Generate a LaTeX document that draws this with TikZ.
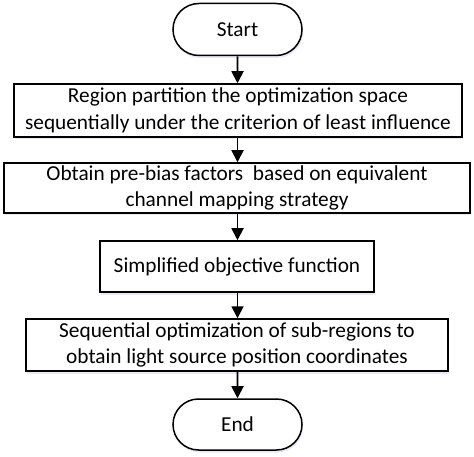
\documentclass[tikz,border=0pt]{standalone}
\usepackage{fontspec}
\setmainfont{Carlito}
\usetikzlibrary{positioning,shapes.misc,arrows.meta,shadows}

\begin{document}
\begin{tikzpicture}[x=1pt,y=-1pt,
	stepbox/.style={draw, line width=1.5pt, rectangle, align=center, inner sep=0pt,
		font=\fontsize{21.3}{26.5}\selectfont,
		drop shadow={opacity=0.12, shadow xshift=1pt, shadow yshift=-2.5pt, fill=blue!40!gray}, fill=white},
	termbox/.style={stepbox, rounded rectangle, minimum width=129pt, minimum height=52pt},
	flow/.style={-{Triangle[width=12pt,length=12pt]}, line width=1.8pt}]
	\pgfmathsetmacro{\CX}{237.5}
	\useasboundingbox (0,0) rectangle (474,457);
	% nodes
	\node[termbox] (start) at (\CX,29.5) {Start};
	\node[stepbox, minimum width=448pt, minimum height=53pt] (partition) at (238,110.5)
		{Region partition the optimization space\\sequentially under the criterion of least influence};
	\node[stepbox, minimum width=466pt, minimum height=50pt] (prebias) at (237,188)
		{Obtain pre-bias factors~ based on equivalent\\channel mapping strategy};
	\node[stepbox, minimum width=274pt, minimum height=51pt] (objective) at (237,266.5)
		{Simplified objective function};
	\node[stepbox, minimum width=422pt, minimum height=52pt] (suboptim) at (237,345)
		{Sequential optimization of sub-regions to\\obtain light source position coordinates};
	\node[termbox, minimum height=51pt] (end) at (\CX,424.5) {End};
	% connectors
	\draw[flow] (start) -- (start |- partition.north);
	\draw[flow] (partition.south -| start) -- (start |- prebias.north);
	\draw[flow] (prebias.south -| start) -- (start |- objective.north);
	\draw[flow] (objective.south -| start) -- (start |- suboptim.north);
	\draw[flow] (suboptim.south -| start) -- (end);
\end{tikzpicture}
\end{document}
